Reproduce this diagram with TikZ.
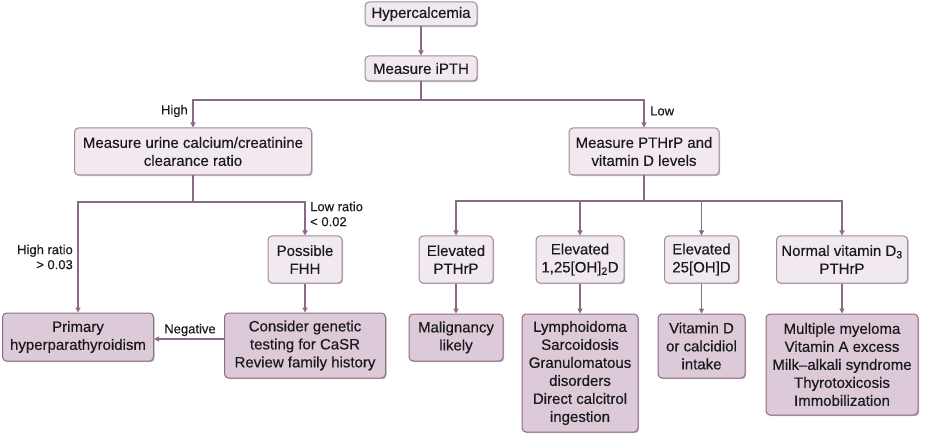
\documentclass[tikz,border=0pt]{standalone}
\usepackage{fontspec}
\setmainfont[FakeBold=0.4]{Liberation Sans}
\usetikzlibrary{arrows.meta,shadows}
\definecolor{lfill}{HTML}{F2E9F0}
\definecolor{lborder}{HTML}{A08A9C}
\definecolor{dfill}{HTML}{DCCAD8}
\definecolor{dborder}{HTML}{8A6D85}
\definecolor{lncol}{HTML}{8A6886}
\definecolor{txt}{HTML}{1A1A1A}
\begin{document}
\begin{tikzpicture}[x=1pt,y=-1pt,
  basebox/.style={rectangle, rounded corners=4pt, align=center, inner sep=2pt,
    font=\fontsize{15}{18}\selectfont\addfontfeature{FakeBold=0.4}, text=txt, line width=1pt,
    drop shadow={shadow xshift=1.2pt, shadow yshift=-1.2pt, opacity=0.25, fill=black}},
  lbox/.style={basebox, fill=lfill, draw=lborder},
  dbox/.style={basebox, fill=dfill, draw=dborder},
  ln/.style={draw=lncol, line width=1.3pt},
  arr/.style={ln, -{Triangle[width=5pt,length=5pt]}},
  lbl/.style={font=\fontsize{13}{15}\selectfont\addfontfeature{FakeBold=0.4}, text=txt, inner sep=0pt}]
\useasboundingbox (0,0) rectangle (936,438);
% top
\node[lbox, minimum width=112pt, minimum height=24pt] (hyp) at (421,14) {Hypercalcemia};
\node[lbox, minimum width=112pt, minimum height=25pt] (ipth) at (421,68.5) {Measure iPTH};
\node[lbox, minimum width=237pt, minimum height=47pt] (urine) at (193,151.5) {Measure urine calcium/creatinine\\clearance ratio};
\node[lbox, minimum width=150pt, minimum height=47pt] (pthrp) at (644,151.5) {Measure PTHrP and\\vitamin D levels};
% left
\node[lbox, minimum width=74pt, minimum height=47pt] (fhh) at (305,259.5) {Possible\\FHH};
\node[dbox, minimum width=151pt, minimum height=48pt] (prim) at (78,337) {Primary\\hyperparathyroidism};
\node[dbox, minimum width=161pt, minimum height=65pt] (cons) at (305,345.5) {Consider genetic\\testing for CaSR\\Review family history};
% right row 2
\node[lbox, minimum width=74pt, minimum height=47pt] (ep) at (456,259.5) {Elevated\\PTHrP};
\node[lbox, minimum width=88pt, minimum height=47pt] (e125) at (580,259.5) {Elevated\\1,25[OH]\textsubscript{2}D};
\node[lbox, minimum width=74pt, minimum height=47pt] (e25) at (701.5,259.5) {Elevated\\25[OH]D};
\node[lbox, minimum width=131pt, minimum height=47pt] (norm) at (842,259.5) {Normal vitamin D\textsubscript{3}\\PTHrP};
% right row 3
\node[dbox, minimum width=94pt, minimum height=47pt] (mal) at (456,337.5) {Malignancy\\likely};
\node[dbox, minimum width=116pt, minimum height=118pt] (lym) at (580,373) {Lymphoidoma\\Sarcoidosis\\Granulomatous\\disorders\\Direct calcitrol\\ingestion};
\node[dbox, minimum width=87pt, minimum height=64pt] (vitd) at (701.5,346) {Vitamin D\\or calcidiol\\intake};
\node[dbox, minimum width=152pt, minimum height=101pt] (mult) at (842,364.5) {Multiple myeloma\\Vitamin A excess\\Milk–alkali syndrome\\Thyrotoxicosis\\Immobilization};
% connectors
\draw[arr] (hyp) -- (ipth);
\coordinate (j1) at (421,100);
\draw[ln] (ipth) -- (j1);
\draw[arr] (j1) -| (urine);
\draw[arr] (j1) -| (pthrp);
\coordinate (j2) at (193,202);
\draw[ln] (urine) -- (j2);
\draw[arr] (j2) -| (prim);
\draw[arr] (j2) -| (fhh);
\draw[arr] (fhh) -- (cons);
\draw[arr] (cons.west |- 0,339) -- (prim.east |- 0,339);
\coordinate (j3) at (644,201);
\draw[ln] (pthrp) -- (j3);
\draw[arr] (j3) -| (ep);
\draw[arr] (j3) -| (e125);
\draw[arr] (j3) -| (e25);
\draw[arr] (j3) -| (norm);
\draw[arr] (ep) -- (mal);
\draw[arr] (e125) -- (lym);
\draw[arr] (e25) -- (vitd);
\draw[arr] (norm) -- (mult);
% labels
\node[lbl, anchor=east] (lhigh) at (188,111) {High};
\node[lbl, anchor=west] (llow) at (650,111) {Low};
\node[lbl, anchor=west, align=left] (llr) at (310,214) {Low ratio\\< 0.02};
\node[lbl, anchor=east, align=right] (lhr) at (73,257) {High ratio\\> 0.03};
\node[lbl] (lneg) at (190,330) {Negative};
\end{tikzpicture}
\end{document}
